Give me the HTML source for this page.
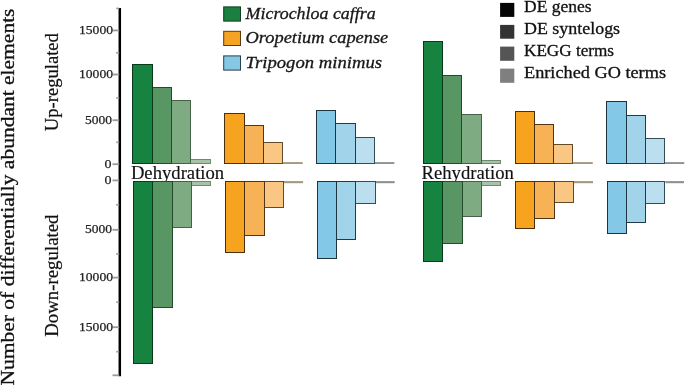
<!DOCTYPE html>
<html><head><meta charset="utf-8"><style>
html,body{margin:0;padding:0;background:#fff;}
body{width:685px;height:386px;overflow:hidden;position:relative;}
svg{position:absolute;left:0;top:0;}
text{font-family:'Liberation Serif', serif;fill:#111;stroke:#111;stroke-width:0.3px;}
.tk{font-size:13px;fill:#222;stroke:#222;stroke-width:0.25px;}
.lab{font-size:18.2px;stroke-width:0.15px;}
.leg{font-size:17.2px;font-style:italic;fill:#1a1a1a;}
.leg2{font-size:16.6px;}
.ttl{font-size:19.6px;}
.sub{font-size:18px;stroke-width:0.2px;}
</style></head><body>
<svg width="685" height="386" viewBox="0 0 685 386">
<text x="130.9" y="178.5" class="lab" textLength="93.3" lengthAdjust="spacingAndGlyphs">Dehydration</text>
<text x="421.5" y="178.5" class="lab" textLength="92.4" lengthAdjust="spacingAndGlyphs">Rehydration</text>
<rect x="190.5" y="159.5" width="20" height="4" fill="#a6c3a7" stroke="#6f8a72" stroke-width="1"/>
<rect x="171.5" y="100.5" width="19" height="63" fill="#7eab81" stroke="#46604a" stroke-width="1"/>
<rect x="152.5" y="87.5" width="19" height="76" fill="#589763" stroke="#244a2c" stroke-width="1"/>
<rect x="132.5" y="64.5" width="20" height="99" fill="#168440" stroke="#0a3a1a" stroke-width="1"/>
<rect x="282.7" y="162.1" width="20" height="1.9" fill="#a8967f"/>
<rect x="263.5" y="142.5" width="19" height="21" fill="#f9c684" stroke="#634a2a" stroke-width="1"/>
<rect x="244.5" y="125.5" width="19" height="38" fill="#f7b255" stroke="#503614" stroke-width="1"/>
<rect x="224.5" y="113.5" width="20" height="50" fill="#f6a31f" stroke="#4a300c" stroke-width="1"/>
<rect x="374.5" y="162.1" width="19.8" height="1.9" fill="#8a9296"/>
<rect x="355.5" y="137.5" width="19" height="26" fill="#bcdff0" stroke="#334d58" stroke-width="1"/>
<rect x="335.5" y="123.5" width="20" height="40" fill="#a1d3eb" stroke="#213a46" stroke-width="1"/>
<rect x="316.5" y="110.5" width="19" height="53" fill="#83c8e6" stroke="#1c3440" stroke-width="1"/>
<rect x="481.5" y="160.5" width="19" height="3" fill="#a6c3a7" stroke="#6f8a72" stroke-width="1"/>
<rect x="461.5" y="114.5" width="20" height="49" fill="#7eab81" stroke="#46604a" stroke-width="1"/>
<rect x="442.5" y="75.5" width="19" height="88" fill="#589763" stroke="#244a2c" stroke-width="1"/>
<rect x="423.5" y="41.5" width="19" height="122" fill="#168440" stroke="#0a3a1a" stroke-width="1"/>
<rect x="572.8" y="162.1" width="20" height="1.9" fill="#a8967f"/>
<rect x="553.5" y="144.5" width="19" height="19" fill="#f9c684" stroke="#634a2a" stroke-width="1"/>
<rect x="534.5" y="124.5" width="19" height="39" fill="#f7b255" stroke="#503614" stroke-width="1"/>
<rect x="515.5" y="111.5" width="19" height="52" fill="#f6a31f" stroke="#4a300c" stroke-width="1"/>
<rect x="664.8" y="162.1" width="19.4" height="1.9" fill="#8a9296"/>
<rect x="645.5" y="138.5" width="19" height="25" fill="#bcdff0" stroke="#334d58" stroke-width="1"/>
<rect x="626.5" y="115.5" width="19" height="48" fill="#a1d3eb" stroke="#213a46" stroke-width="1"/>
<rect x="606.5" y="101.5" width="20" height="62" fill="#83c8e6" stroke="#1c3440" stroke-width="1"/>
<rect x="191.5" y="181.5" width="19" height="4" fill="#a6c3a7" stroke="#6f8a72" stroke-width="1"/>
<rect x="172.5" y="181.5" width="19" height="46" fill="#7eab81" stroke="#46604a" stroke-width="1"/>
<rect x="152.5" y="181.5" width="20" height="126" fill="#589763" stroke="#244a2c" stroke-width="1"/>
<rect x="133.5" y="181.5" width="19" height="182" fill="#168440" stroke="#0a3a1a" stroke-width="1"/>
<rect x="283.7" y="181.1" width="19.4" height="2.1" fill="#a8967f"/>
<rect x="264.5" y="181.5" width="19" height="26" fill="#f9c684" stroke="#634a2a" stroke-width="1"/>
<rect x="244.5" y="181.5" width="20" height="54" fill="#f7b255" stroke="#503614" stroke-width="1"/>
<rect x="225.5" y="181.5" width="19" height="71" fill="#f6a31f" stroke="#4a300c" stroke-width="1"/>
<rect x="375.7" y="181.1" width="19" height="2.1" fill="#8a9296"/>
<rect x="355.5" y="181.5" width="20" height="22" fill="#bcdff0" stroke="#334d58" stroke-width="1"/>
<rect x="336.5" y="181.5" width="19" height="58" fill="#a1d3eb" stroke="#213a46" stroke-width="1"/>
<rect x="317.5" y="181.5" width="19" height="77" fill="#83c8e6" stroke="#1c3440" stroke-width="1"/>
<rect x="481.5" y="181.5" width="19" height="4" fill="#a6c3a7" stroke="#6f8a72" stroke-width="1"/>
<rect x="462.5" y="181.5" width="19" height="35" fill="#7eab81" stroke="#46604a" stroke-width="1"/>
<rect x="442.5" y="181.5" width="20" height="62" fill="#589763" stroke="#244a2c" stroke-width="1"/>
<rect x="423.5" y="181.5" width="19" height="80" fill="#168440" stroke="#0a3a1a" stroke-width="1"/>
<rect x="573.6" y="181.1" width="19.4" height="2.1" fill="#a8967f"/>
<rect x="554.5" y="181.5" width="19" height="21" fill="#f9c684" stroke="#634a2a" stroke-width="1"/>
<rect x="534.5" y="181.5" width="20" height="37" fill="#f7b255" stroke="#503614" stroke-width="1"/>
<rect x="515.5" y="181.5" width="19" height="47" fill="#f6a31f" stroke="#4a300c" stroke-width="1"/>
<rect x="665.4" y="181.1" width="18.6" height="2.1" fill="#8a9296"/>
<rect x="645.5" y="181.5" width="19" height="22" fill="#bcdff0" stroke="#334d58" stroke-width="1"/>
<rect x="626.5" y="181.5" width="19" height="41" fill="#a1d3eb" stroke="#213a46" stroke-width="1"/>
<rect x="607.5" y="181.5" width="19" height="52" fill="#83c8e6" stroke="#1c3440" stroke-width="1"/>
<line x1="119.8" y1="8" x2="119.8" y2="376.3" stroke="#000" stroke-width="2.5"/>
<line x1="112.5" y1="30.4" x2="119.2" y2="30.4" stroke="#9a9a9a" stroke-width="1.8"/>
<line x1="112.5" y1="74.5" x2="119.2" y2="74.5" stroke="#9a9a9a" stroke-width="1.8"/>
<line x1="112.5" y1="120.2" x2="119.2" y2="120.2" stroke="#9a9a9a" stroke-width="1.8"/>
<line x1="112.5" y1="164.2" x2="119.2" y2="164.2" stroke="#9a9a9a" stroke-width="1.8"/>
<line x1="112.5" y1="180.4" x2="119.2" y2="180.4" stroke="#9a9a9a" stroke-width="1.8"/>
<line x1="112.5" y1="229.8" x2="119.2" y2="229.8" stroke="#9a9a9a" stroke-width="1.8"/>
<line x1="112.5" y1="277.6" x2="119.2" y2="277.6" stroke="#9a9a9a" stroke-width="1.8"/>
<line x1="112.5" y1="327.2" x2="119.2" y2="327.2" stroke="#9a9a9a" stroke-width="1.8"/>
<line x1="112.5" y1="375.3" x2="119.2" y2="375.3" stroke="#9a9a9a" stroke-width="1.8"/>
<line x1="116.2" y1="8.4" x2="119.2" y2="8.4" stroke="#9a9a9a" stroke-width="1.6"/>
<line x1="116.2" y1="52.8" x2="119.2" y2="52.8" stroke="#9a9a9a" stroke-width="1.6"/>
<line x1="116.2" y1="98.0" x2="119.2" y2="98.0" stroke="#9a9a9a" stroke-width="1.6"/>
<line x1="116.2" y1="142.3" x2="119.2" y2="142.3" stroke="#9a9a9a" stroke-width="1.6"/>
<line x1="116.2" y1="204.8" x2="119.2" y2="204.8" stroke="#9a9a9a" stroke-width="1.6"/>
<line x1="116.2" y1="253.9" x2="119.2" y2="253.9" stroke="#9a9a9a" stroke-width="1.6"/>
<line x1="116.2" y1="302.2" x2="119.2" y2="302.2" stroke="#9a9a9a" stroke-width="1.6"/>
<line x1="116.2" y1="351.7" x2="119.2" y2="351.7" stroke="#9a9a9a" stroke-width="1.6"/>
<text x="79" y="34" class="tk" textLength="34.0" lengthAdjust="spacingAndGlyphs">15000</text>
<text x="79" y="78.1" class="tk" textLength="34.0" lengthAdjust="spacingAndGlyphs">10000</text>
<text x="85" y="123.8" class="tk" textLength="27.0" lengthAdjust="spacingAndGlyphs">5000</text>
<text x="104.5" y="167.8" class="tk" textLength="7.0" lengthAdjust="spacingAndGlyphs">0</text>
<text x="104.5" y="184" class="tk" textLength="7.0" lengthAdjust="spacingAndGlyphs">0</text>
<text x="85" y="233.4" class="tk" textLength="27.0" lengthAdjust="spacingAndGlyphs">5000</text>
<text x="79" y="281.2" class="tk" textLength="34.0" lengthAdjust="spacingAndGlyphs">10000</text>
<text x="79" y="330.8" class="tk" textLength="34.0" lengthAdjust="spacingAndGlyphs">15000</text>

<rect x="223.7" y="6.9" width="16.8" height="14.2" fill="#1a7f40" stroke="#0b3f1f" stroke-width="1"/>
<rect x="223.7" y="31.3" width="16.8" height="14.2" fill="#f5a322" stroke="#5a3a10" stroke-width="1"/>
<rect x="223.7" y="55.9" width="16.8" height="14.2" fill="#85c8e6" stroke="#2a3f4a" stroke-width="1"/>
<text x="245.6" y="18.7" class="leg" textLength="130.1" lengthAdjust="spacingAndGlyphs">Microchloa caffra</text>
<text x="245.6" y="43.3" class="leg" textLength="142.6" lengthAdjust="spacingAndGlyphs">Oropetium capense</text>
<text x="245.6" y="67.9" class="leg" textLength="136.4" lengthAdjust="spacingAndGlyphs">Tripogon minimus</text>

<rect x="500.1" y="2.9" width="14.2" height="14" fill="#050505"/>
<rect x="500.1" y="24.9" width="14.2" height="13.8" fill="#333333"/>
<rect x="500.1" y="46.6" width="14.2" height="14.2" fill="#555555"/>
<rect x="500.1" y="68.6" width="14.2" height="14.2" fill="#7f7f7f"/>
<text x="524" y="12.3" class="leg2" textLength="67.5" lengthAdjust="spacingAndGlyphs">DE genes</text>
<text x="524" y="34" class="leg2" textLength="96.1" lengthAdjust="spacingAndGlyphs">DE syntelogs</text>
<text x="524" y="56.1" class="leg2" textLength="90" lengthAdjust="spacingAndGlyphs">KEGG terms</text>
<text x="524" y="78" class="leg2" textLength="142" lengthAdjust="spacingAndGlyphs">Enriched GO terms</text>

<text transform="translate(14,385.5) rotate(-90)" class="ttl" textLength="377" lengthAdjust="spacingAndGlyphs">Number of differentially abundant elements</text>
<text transform="translate(58,131.2) rotate(-90)" class="sub" textLength="98.1" lengthAdjust="spacingAndGlyphs">Up-regulated</text>
<text transform="translate(57.8,336.8) rotate(-90)" class="sub" textLength="122.3" lengthAdjust="spacingAndGlyphs">Down-regulated</text>
</svg>
</body></html>
